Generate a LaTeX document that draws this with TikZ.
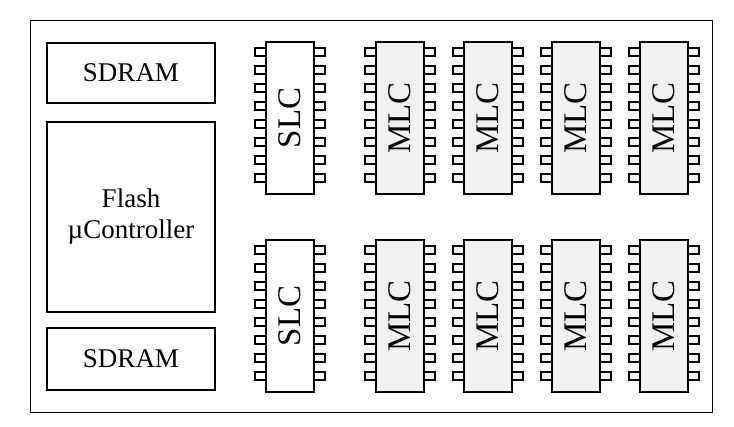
\documentclass[tikz,border=0pt]{standalone}
\usepackage{fontspec}
\setmainfont{Liberation Serif}
\begin{document}
\begin{tikzpicture}[x=1pt,y=-1pt,
  box/.style={draw,line width=1.2pt,fill=white},
  lbl/.style={font=\fontsize{27}{31}\selectfont},
  chiplbl/.style={font=\fontsize{33}{35}\selectfont,rotate=90}]
\useasboundingbox (0,0) rectangle (734,426);
\draw[line width=0.8pt] (30,20) rectangle (712,412);
\node[box,minimum width=168pt,minimum height=60pt,lbl] (sd1) at (131,73) {SDRAM};
\node[box,minimum width=168pt,minimum height=190pt,lbl,align=center] (fl) at (131,217) {Flash\\µController};
\node[box,minimum width=168pt,minimum height=62pt,lbl] (sd2) at (131,359) {SDRAM};
\newcommand{\mychip}[4]{% x, y, fill, label
  \foreach \i in {0,...,7}{
    \draw[line width=1.2pt,fill=#3] (#1-11,#2+6+\i*18) rectangle (#1,#2+14+\i*18);
    \draw[line width=1.2pt,fill=#3] (#1+48,#2+6+\i*18) rectangle (#1+59,#2+14+\i*18);
  }
  \draw[line width=1.2pt,fill=#3] (#1,#2) rectangle (#1+48,#2+152);
  \node[chiplbl] at (#1+24,#2+76) {#4};
}
\foreach \yy in {42,240}{
  \mychip{266}{\yy}{white}{SLC}
  \foreach \xx in {376,464,552,640}{\mychip{\xx}{\yy}{gray!12}{MLC}}
}
\end{tikzpicture}
\end{document}
